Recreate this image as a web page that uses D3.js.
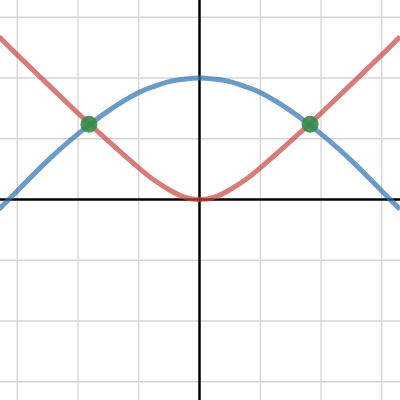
<!DOCTYPE html>
<html>
<head>
<meta charset="utf-8">
<script src="https://cdn.jsdelivr.net/npm/d3@7"></script>
<style>
  html, body { margin: 0; padding: 0; background: #fff; }
  svg { display: block; }
</style>
</head>
<body>
<svg id="chart"></svg>
<script>
// 图上读出的数据（单位：坐标值）
const xs        = [-1.65, -1.5, -1.25, -1, -0.75, -0.5, -0.375, -0.25, -0.125, 0, 0.125, 0.25, 0.375, 0.5, 0.75, 1, 1.25, 1.5, 1.65];
const blueVals  = [-0.08, 0.07, 0.32, 0.54, 0.73, 0.88, 0.93, 0.97, 0.99, 1.00, 0.99, 0.97, 0.93, 0.88, 0.73, 0.54, 0.32, 0.07, -0.08];
const redVals   = [1.34, 1.19, 0.95, 0.71, 0.48, 0.26, 0.16, 0.08, 0.02, 0, 0.02, 0.08, 0.16, 0.26, 0.48, 0.71, 0.95, 1.19, 1.34];
const crossX    = [-0.91, 0.91];
const crossY    = [0.62, 0.62];
const gridTicks = [-1.5, -1, -0.5, 0.5, 1, 1.5];

const width = 400, height = 400;
const unit = 121.5;
const cx = 199.5, cy = 199.5;

const x = d3.scaleLinear().domain([-cx / unit, (width - cx) / unit]).range([0, width]);
const y = d3.scaleLinear().domain([-(height - cy) / unit, cy / unit]).range([height, 0]);

const svg = d3.select('#chart').attr('width', width).attr('height', height);

// 网格
svg.append('g').selectAll('line.v')
  .data(gridTicks).join('line')
  .attr('x1', d => x(d)).attr('x2', d => x(d))
  .attr('y1', 0).attr('y2', height)
  .attr('stroke', '#d6d6d6').attr('stroke-width', 1.3);

svg.append('g').selectAll('line.h')
  .data(gridTicks).join('line')
  .attr('y1', d => y(d)).attr('y2', d => y(d))
  .attr('x1', 0).attr('x2', width)
  .attr('stroke', '#d6d6d6').attr('stroke-width', 1.3);

// 坐标轴
svg.append('line')
  .attr('x1', 0).attr('x2', width)
  .attr('y1', y(0)).attr('y2', y(0))
  .attr('stroke', '#000').attr('stroke-width', 2.5);
svg.append('line')
  .attr('x1', x(0)).attr('x2', x(0))
  .attr('y1', 0).attr('y2', height)
  .attr('stroke', '#000').attr('stroke-width', 2.5);

// 曲线
const line = d3.line()
  .x(d => x(d[0]))
  .y(d => y(d[1]))
  .curve(d3.curveNatural);

svg.append('path')
  .datum(xs.map((v, i) => [v, redVals[i]]))
  .attr('d', line)
  .attr('fill', 'none')
  .attr('stroke', '#c74440').attr('stroke-opacity', 0.7)
  .attr('stroke-width', 5);

svg.append('path')
  .datum(xs.map((v, i) => [v, blueVals[i]]))
  .attr('d', line)
  .attr('fill', 'none')
  .attr('stroke', '#2d70b3').attr('stroke-opacity', 0.7)
  .attr('stroke-width', 5);

// 交点
svg.append('g').selectAll('circle')
  .data(crossX.map((v, i) => [v, crossY[i]]))
  .join('circle')
  .attr('cx', d => x(d[0]))
  .attr('cy', d => y(d[1]))
  .attr('r', 8.5)
  .attr('fill', '#388c46').attr('fill-opacity', 0.9);
</script>
</body>
</html>
